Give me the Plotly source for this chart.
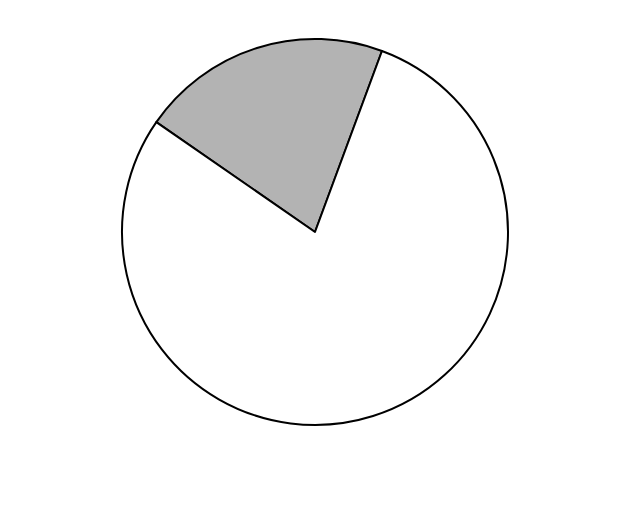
import plotly.graph_objects as go

# slice shares
labels = ['A', 'B']
values = [21, 79]
colors = ['#b3b3b3', '#ffffff']

pie = go.Pie(
    labels=labels,
    values=values,
    sort=False,
    direction='clockwise',
    rotation=-55.3,
    marker=dict(colors=colors, line=dict(color='black', width=2)),
    textinfo='none',
    hoverinfo='label+percent',
    showlegend=False
)

layout = go.Layout(
    width=636,
    height=512,
    margin=dict(l=114, r=136, t=31, b=95),
    paper_bgcolor='white',
    plot_bgcolor='white'
)

fig = go.Figure(data=[pie], layout=layout)
fig.write_html("out.html")
